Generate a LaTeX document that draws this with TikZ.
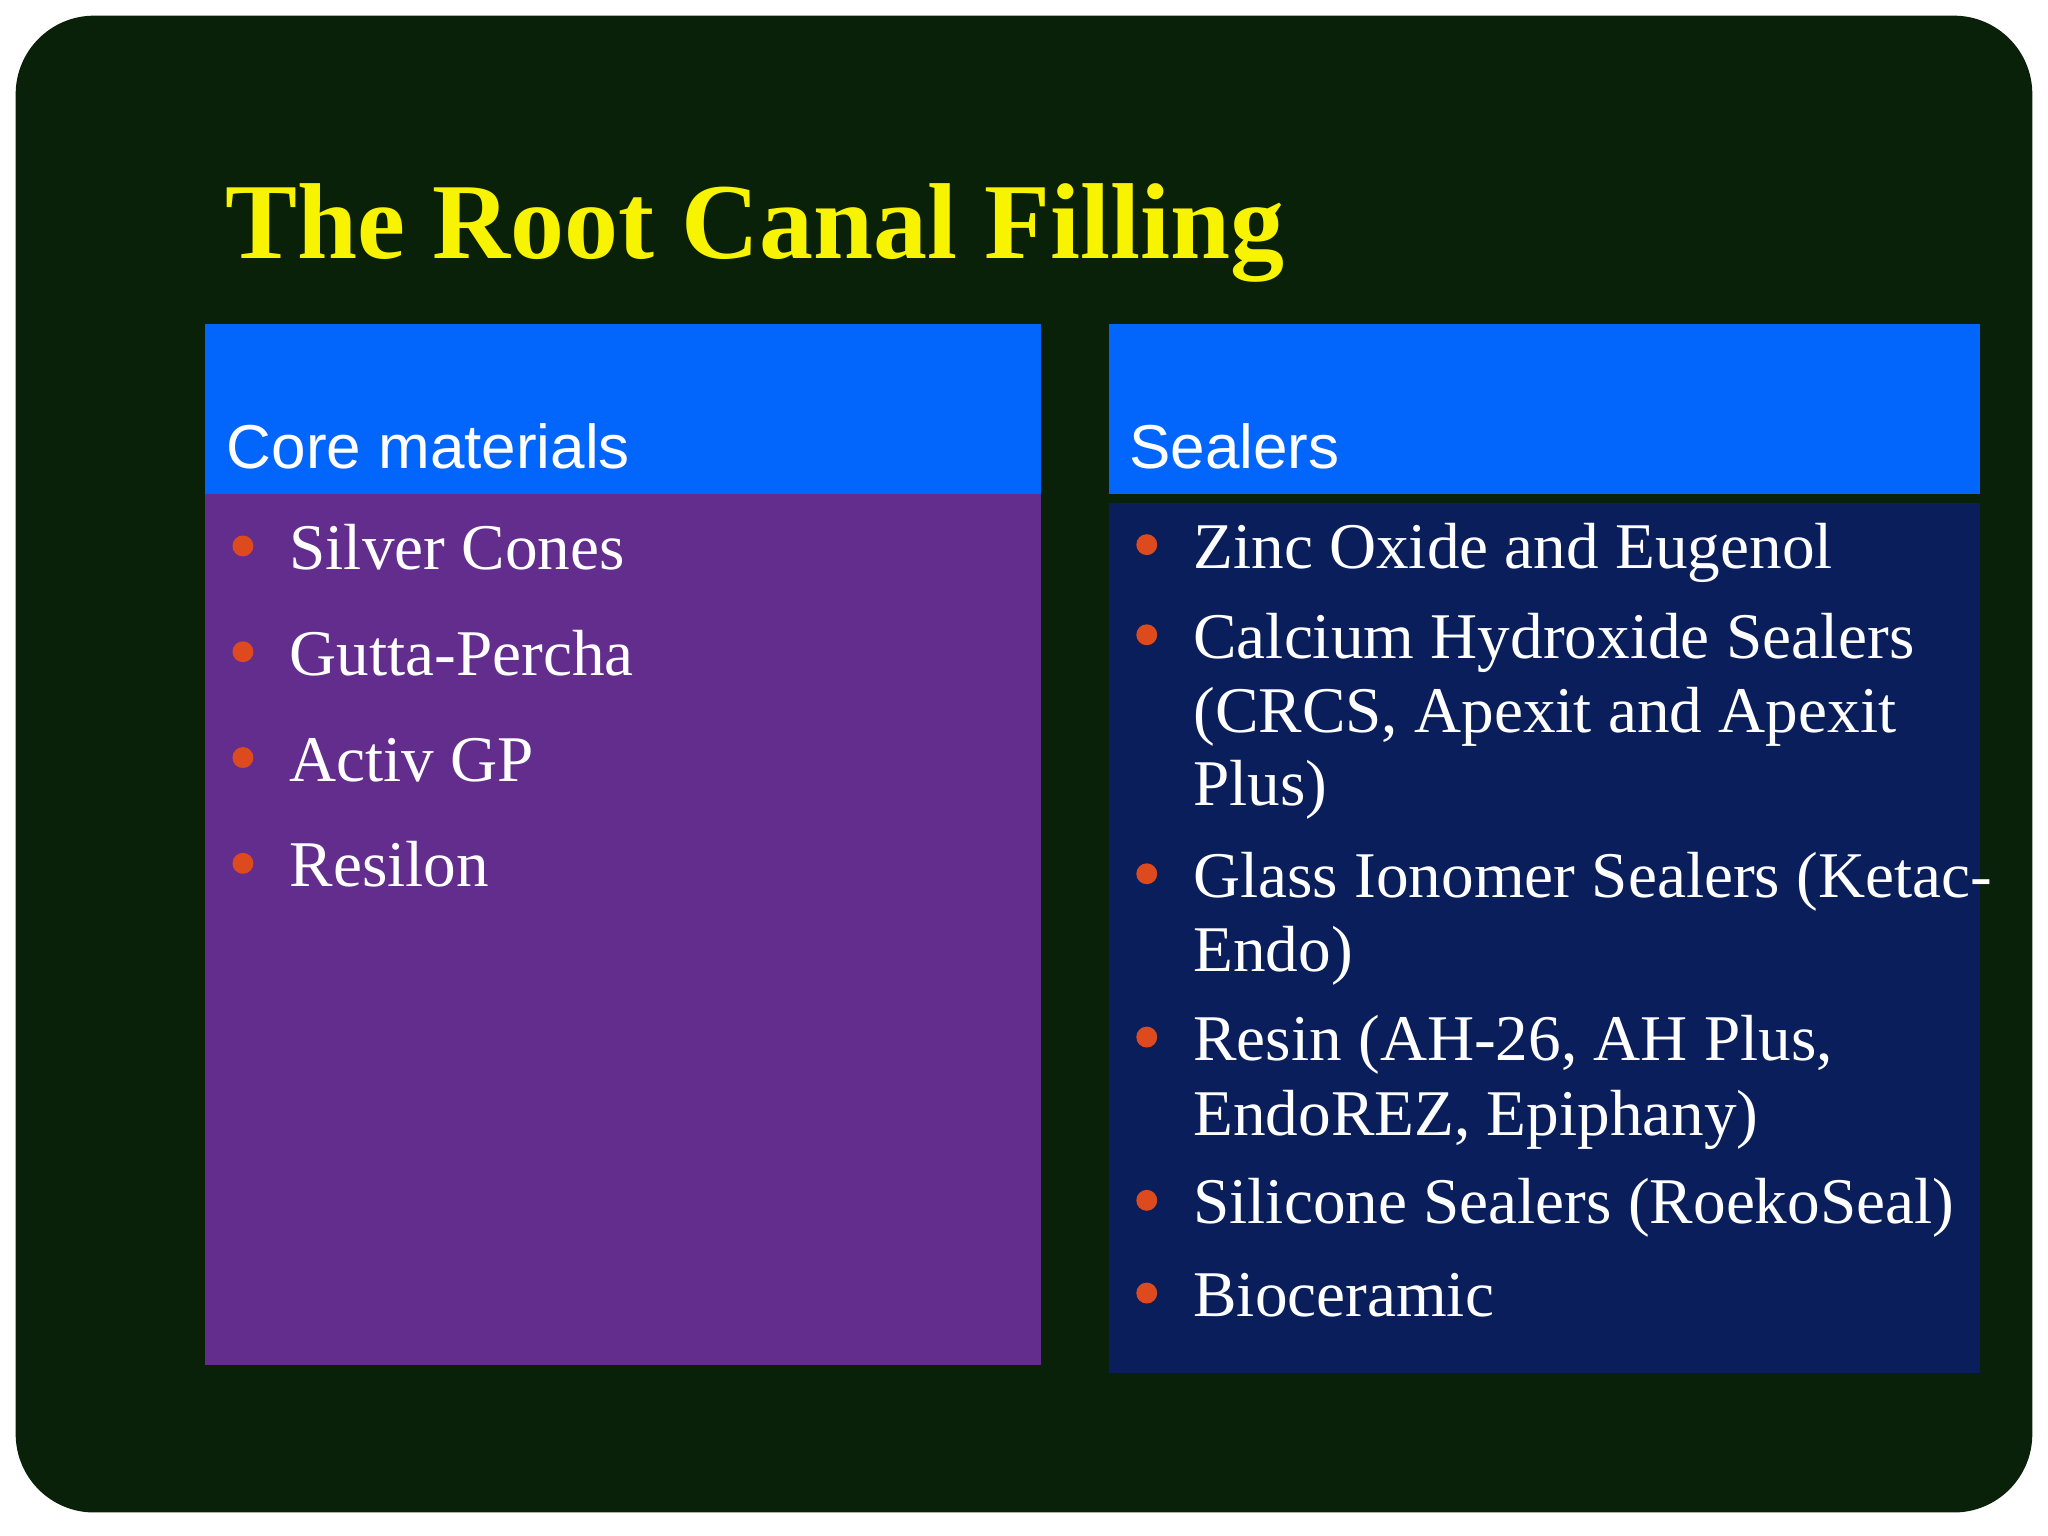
\documentclass[tikz,border=0pt]{standalone}
\usepackage{fontspec}
\setmainfont{Liberation Serif}
\newfontfamily\hdfont{Liberation Sans}
\definecolor{bggreen}{HTML}{0A2109}
\definecolor{ttl}{HTML}{F8F400}
\definecolor{hdblue}{HTML}{0366FC}
\definecolor{purp}{HTML}{632D8E}
\definecolor{navy}{HTML}{0A1E5B}
\definecolor{bul}{HTML}{DD4A1E}
\begin{document}
\begin{tikzpicture}[x=0.01cm,y=-0.01cm,
  hd/.style={anchor=base west,text=white,font=\hdfont\fontsize{13.5pt}{16pt}\selectfont,inner sep=0},
  itm/.style={anchor=base west,text=white,font=\fontsize{14.2pt}{16pt}\selectfont,inner sep=0},
  dot/.style={circle,fill=bul,minimum size=0.16cm,inner sep=0}]
\useasboundingbox (0,0) rectangle (1568,1176);
\fill[white] (0,0) rectangle (1568,1176);
\fill[bggreen,rounded corners=0.6cm] (12,12) rectangle (1556,1158);
\node[anchor=base west,text=ttl,inner sep=0,font=\bfseries\fontsize{23.5pt}{28pt}\selectfont] (title) at (172,198) {The Root Canal Filling};
\fill[hdblue] (157,248) rectangle (797,378);
\fill[purp] (157,378) rectangle (797,1045);
\fill[hdblue] (849,248) rectangle (1516,378);
\fill[navy] (849,385) rectangle (1516,1051);
\node[hd] (h1) at (173,359) {Core materials};
\node[hd] (h2) at (864,359) {Sealers};
\foreach \y/\t [count=\i] in {436/Silver Cones,517/Gutta-Percha,598/Activ GP,679/Resilon}{
  \node[dot] (lb\i) at (186,\y-18) {};
  \node[itm] (l\i) at (221,\y) {\t};
}
\foreach \y/\t [count=\i] in {435/Zinc Oxide and Eugenol,504/Calcium Hydroxide Sealers,687/Glass Ionomer Sealers (Ketac-,812/{Resin (AH-26, AH Plus,},937/Silicone Sealers (RoekoSeal),1008/Bioceramic}{
  \node[dot] (rb\i) at (878,\y-18) {};
  \node[itm] (r\i) at (913,\y) {\t};
}
\node[itm] (r2b) at (913,561) {(CRCS, Apexit and Apexit};
\node[itm] (r2c) at (913,617) {Plus)};
\node[itm] (r3b) at (913,744) {Endo)};
\node[itm] (r4b) at (913,869) {EndoREZ, Epiphany)};
\end{tikzpicture}
\end{document}
